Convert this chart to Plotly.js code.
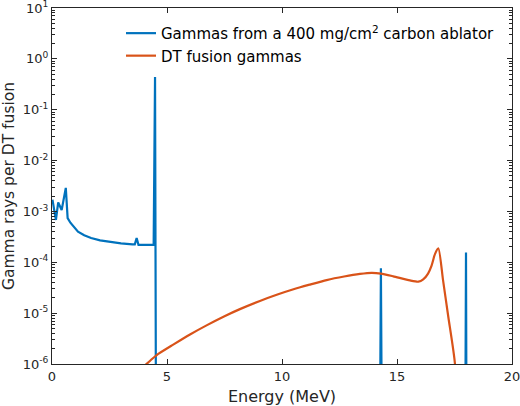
<!DOCTYPE html>
<html>
<head>
<meta charset="utf-8">
<script src="https://cdn.plot.ly/plotly-3.0.1.min.js"></script>
<style>html,body{margin:0;padding:0;background:#fff;}#chart{width:520px;height:406px;}</style>
</head>
<body>
<div id="chart"></div>
<script>
// Blue series: gammas from carbon ablator (energy MeV, gammas per DT fusion)
const carbonE = [0.02, 0.17, 0.27, 0.42, 0.6, 0.68, 0.8, 1.0, 1.13, 1.4, 1.7, 2.09, 2.5, 3.0, 3.5, 3.6, 3.68, 3.76, 4.42, 4.48, 4.55, 14.2, 14.3, 14.4, 17.93, 18.0, 18.05, 20];
const carbonY = [1.7e-3, 6.8e-4, 1.5e-3, 1.07e-3, 2.9e-3, 7.4e-4, 6e-4, 4.6e-4, 4e-4, 3.4e-4, 3e-4, 2.7e-4, 2.5e-4, 2.35e-4, 2.25e-4, 2.25e-4, 3e-4, 2.2e-4, 2.2e-4, 0.44, 1e-12, 1e-12, 7.6e-5, 1e-12, 1e-12, 1.55e-4, 1e-12, 1e-12];

// Orange series: DT fusion gammas
const dtE = [4.0, 4.3, 4.55, 5.27, 6.0, 6.72, 7.5, 8.17, 9.04, 9.77, 10.5, 11.2, 11.94, 12.7, 13.39, 13.9, 14.3, 14.84, 15.56, 15.93, 16.14, 16.35, 16.5, 16.65, 16.8, 17.0, 17.23, 17.52, 17.6];
const dtY = [9e-7, 1.2e-6, 1.5e-6, 2.4e-6, 3.8e-6, 5.75e-6, 8.7e-6, 1.2e-5, 1.74e-5, 2.3e-5, 2.95e-5, 3.63e-5, 4.47e-5, 5.25e-5, 5.9e-5, 6.2e-5, 6.0e-5, 5.3e-5, 4.4e-5, 4.15e-5, 4.6e-5, 6.0e-5, 8.5e-5, 1.45e-4, 1.88e-4, 4.5e-5, 8.5e-6, 1e-6, 1e-8];

const seriesNames = ["Gammas from a 400 mg/cm<sup>2</sup> carbon ablator", "DT fusion gammas"];
const xTicks = [0, 5, 10, 15, 20];
const yTickVals = [1e1, 1e0, 1e-1, 1e-2, 1e-3, 1e-4, 1e-5, 1e-6];
const yTickText = ["10<sup>1</sup>", "10<sup>0</sup>", "10<sup>-1</sup>", "10<sup>-2</sup>", "10<sup>-3</sup>", "10<sup>-4</sup>", "10<sup>-5</sup>", "10<sup>-6</sup>"];
const minorMultipliers = [2, 3, 4, 5, 6, 7, 8, 9];
const xTitle = "Energy (MeV)";
const yTitle = "Gamma rays per DT fusion";

// minor tick positions on the log axis (decades 1e-6 .. 1e0)
const yMinorVals = [];
for (let d = -6; d < 1; d++) {
  for (const m of minorMultipliers) yMinorVals.push(m * Math.pow(10, d));
}

const font = "DejaVu Sans, Verdana, sans-serif";
const axisColor = "#262626";

const data = [
  {x: carbonE, y: carbonY, type: "scatter", mode: "lines", name: seriesNames[0],
   line: {color: "#0072BD", width: 2.2}},
  {x: dtE, y: dtY, type: "scatter", mode: "lines", name: seriesNames[1],
   line: {color: "#D95319", width: 2.2, shape: "spline", smoothing: 0.6}}
];

const layout = {
  width: 520, height: 406,
  margin: {l: 52, r: 8, t: 8, b: 42},
  paper_bgcolor: "#fff", plot_bgcolor: "#fff",
  font: {family: font, size: 13, color: axisColor},
  showlegend: true,
  legend: {x: 0.15, y: 0.975, xanchor: "left", yanchor: "top",
           bgcolor: "rgba(255,255,255,0)", borderwidth: 0,
           font: {family: font, size: 15, color: "#000"}, tracegroupgap: 0},
  xaxis: {
    range: [0, 20], tickvals: xTicks, ticktext: xTicks.map(String),
    ticks: "inside", ticklen: 5, tickcolor: axisColor,
    showline: true, linecolor: axisColor, linewidth: 1, mirror: "ticks",
    showgrid: false, zeroline: false, ticklabeloverflow: "allow",
    tickfont: {family: font, size: 13, color: axisColor},
    title: {text: xTitle, font: {family: font, size: 16, color: axisColor}, standoff: 8}
  },
  yaxis: {
    type: "log", range: [-6, 1],
    tickmode: "array", tickvals: yTickVals, ticktext: yTickText,
    ticks: "inside", ticklen: 5, tickcolor: axisColor, tickwidth: 1,
    showline: true, linecolor: axisColor, linewidth: 1, mirror: "ticks",
    showgrid: false, zeroline: false, ticklabeloverflow: "allow",
    minor: {tickmode: "array", tickvals: yMinorVals, ticks: "inside", ticklen: 3,
            tickcolor: axisColor, tickwidth: 1, showgrid: false},
    tickfont: {family: font, size: 13, color: axisColor},
    title: {text: yTitle, font: {family: font, size: 15.5, color: axisColor}, standoff: 6}
  }
};

Plotly.newPlot("chart", data, layout, {displayModeBar: false, staticPlot: true});
</script>
</body>
</html>
